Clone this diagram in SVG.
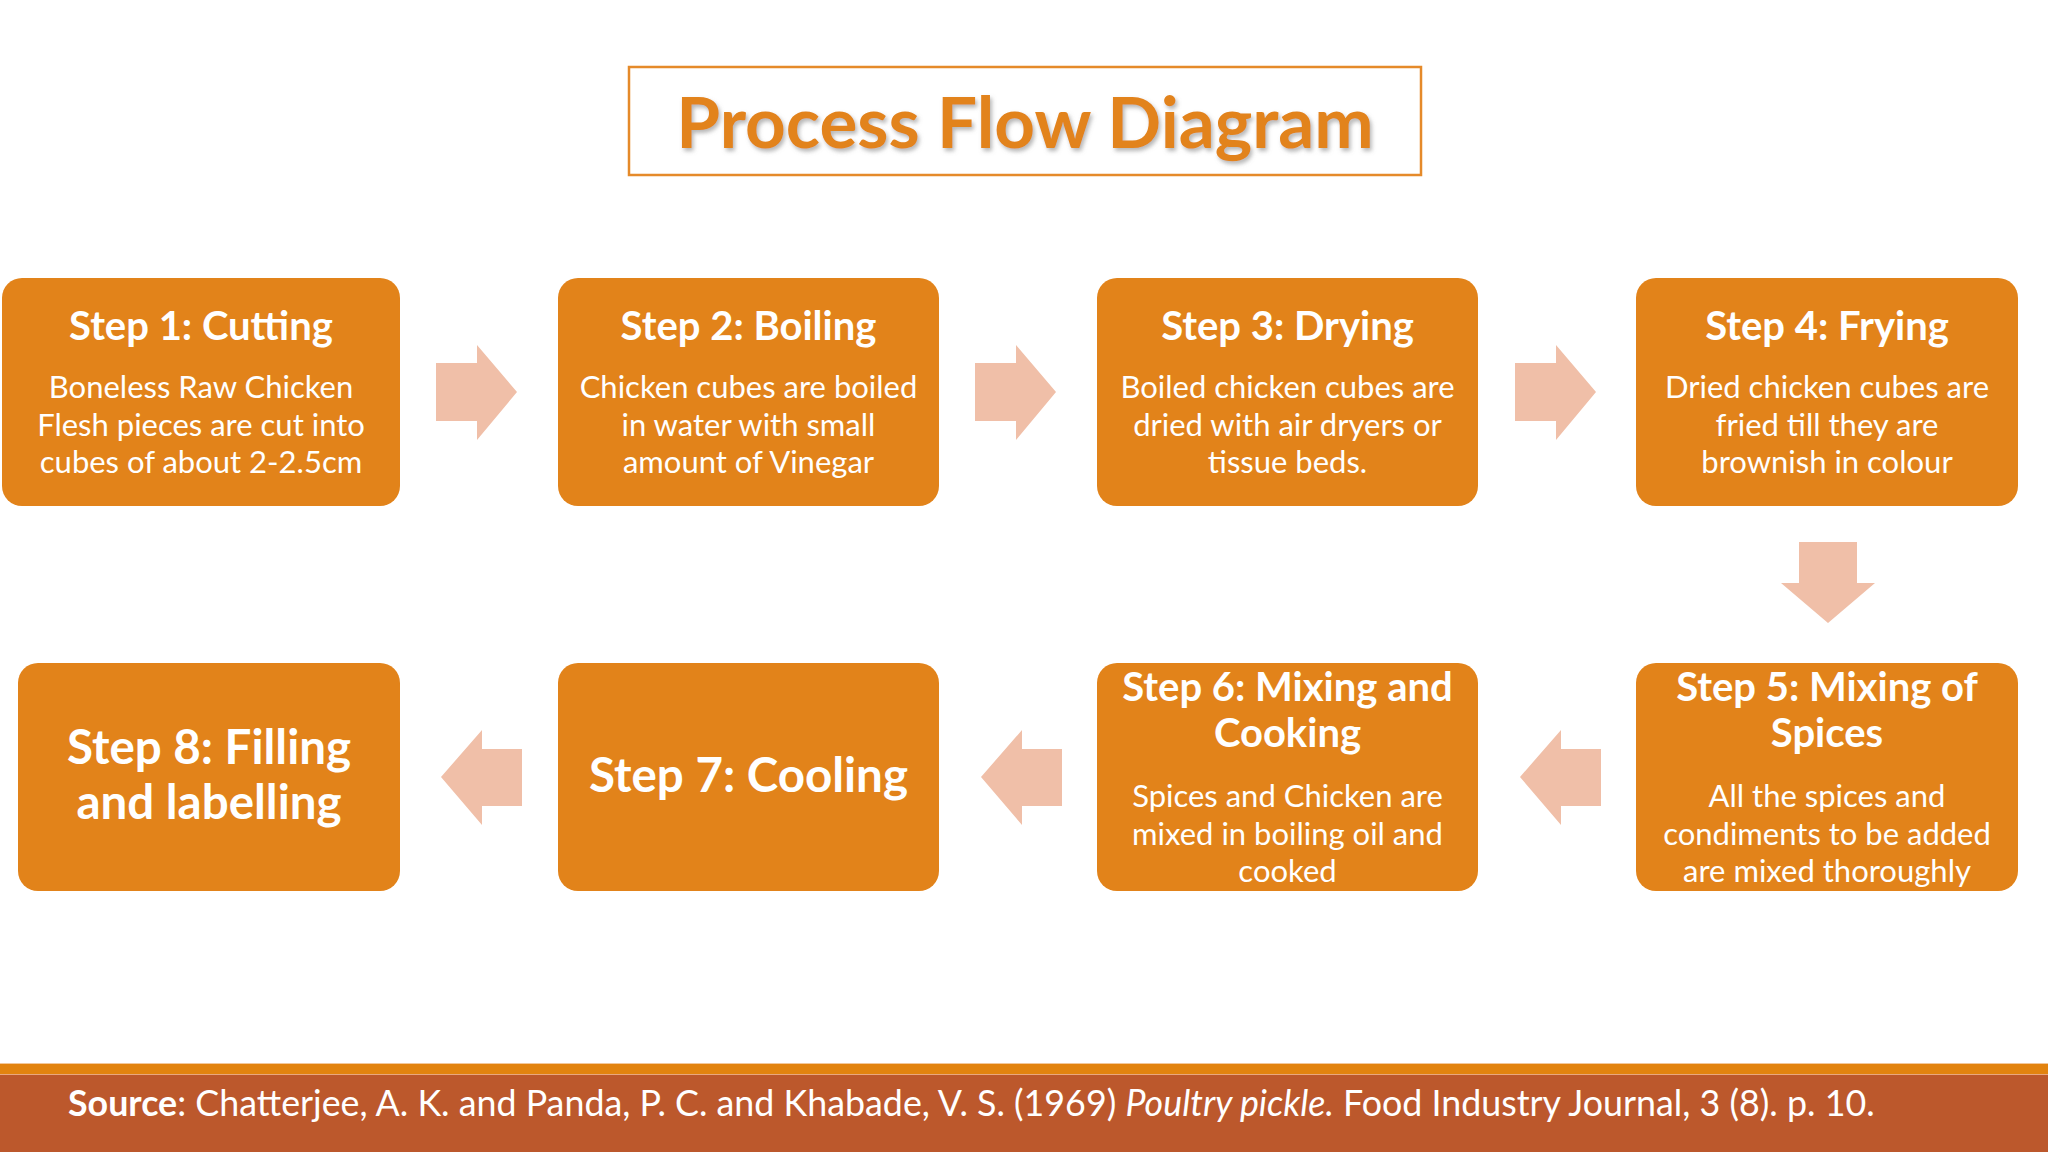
<svg xmlns="http://www.w3.org/2000/svg" width="2048" height="1152" viewBox="0 0 2048 1152">
  <defs>
    <filter id="shadow" x="-5%" y="-20%" width="110%" height="140%">
      <feDropShadow dx="2" dy="3" stdDeviation="2" flood-color="#7a7a7a" flood-opacity="0.55"/>
    </filter>
  </defs>
  <style>
    .box { fill: #E2831A; }
    .arrow { fill: #F0BFA8; }
    .head { font-family: Lato, "Liberation Sans", sans-serif; font-weight: bold; font-size: 40px; fill: #FFFFFF; text-anchor: middle; }
    .big { font-family: Lato, "Liberation Sans", sans-serif; font-weight: bold; font-size: 47.5px; fill: #FFFFFF; text-anchor: middle; }
    .body { font-family: Lato, "Liberation Sans", sans-serif; font-size: 31px; fill: #FFFFFF; text-anchor: middle; }
    .title { font-family: Lato, "Liberation Sans", sans-serif; font-weight: bold; font-size: 71px; fill: #E2831A; text-anchor: middle; }
    .foot { font-family: Lato, "Liberation Sans", sans-serif; font-size: 35.8px; fill: #FFFFFF; }
  </style>
  <rect x="0" y="0" width="2048" height="1152" fill="#FFFFFF"/>

  <g id="title">
    <rect x="629" y="67" width="792" height="108" fill="#FFFFFF" stroke="#E58A2A" stroke-width="2.5"/>
    <text class="title" x="1025" y="148" filter="url(#shadow)">Process Flow Diagram</text>
  </g>

  <g id="step1">
    <rect class="box" x="2" y="278" width="398" height="228" rx="20"/>
    <text class="head" x="201" y="340">Step 1: Cutting</text>
    <text class="body" x="201" y="398">Boneless Raw Chicken</text>
    <text class="body" x="201" y="435.5">Flesh pieces are cut into</text>
    <text class="body" x="201" y="473">cubes of about 2-2.5cm</text>
  </g>
  <g id="step2">
    <rect class="box" x="558" y="278" width="381" height="228" rx="20"/>
    <text class="head" x="748.5" y="340">Step 2: Boiling</text>
    <text class="body" x="748.5" y="398">Chicken cubes are boiled</text>
    <text class="body" x="748.5" y="435.5">in water with small</text>
    <text class="body" x="748.5" y="473">amount of Vinegar</text>
  </g>
  <g id="step3">
    <rect class="box" x="1097" y="278" width="381" height="228" rx="20"/>
    <text class="head" x="1287.5" y="340">Step 3: Drying</text>
    <text class="body" x="1287.5" y="398">Boiled chicken cubes are</text>
    <text class="body" x="1287.5" y="435.5">dried with air dryers or</text>
    <text class="body" x="1287.5" y="473">tissue beds.</text>
  </g>
  <g id="step4">
    <rect class="box" x="1636" y="278" width="382" height="228" rx="20"/>
    <text class="head" x="1827" y="340">Step 4: Frying</text>
    <text class="body" x="1827" y="398">Dried chicken cubes are</text>
    <text class="body" x="1827" y="435.5">fried till they are</text>
    <text class="body" x="1827" y="473">brownish in colour</text>
  </g>
  <g id="step5">
    <rect class="box" x="1636" y="663" width="382" height="228" rx="20"/>
    <text class="head" x="1827" y="701">Step 5: Mixing of</text>
    <text class="head" x="1827" y="747">Spices</text>
    <text class="body" x="1827" y="807">All the spices and</text>
    <text class="body" x="1827" y="844.5">condiments to be added</text>
    <text class="body" x="1827" y="882">are mixed thoroughly</text>
  </g>
  <g id="step6">
    <rect class="box" x="1097" y="663" width="381" height="228" rx="20"/>
    <text class="head" x="1287.5" y="701">Step 6: Mixing and</text>
    <text class="head" x="1287.5" y="747">Cooking</text>
    <text class="body" x="1287.5" y="807">Spices and Chicken are</text>
    <text class="body" x="1287.5" y="844.5">mixed in boiling oil and</text>
    <text class="body" x="1287.5" y="882">cooked</text>
  </g>
  <g id="step7">
    <rect class="box" x="558" y="663" width="381" height="228" rx="20"/>
    <text class="big" x="748.5" y="792">Step 7: Cooling</text>
  </g>
  <g id="step8">
    <rect class="box" x="18" y="663" width="382" height="228" rx="20"/>
    <text class="big" x="209" y="764">Step 8: Filling</text>
    <text class="big" x="209" y="819">and labelling</text>
  </g>

  <g id="connectors">
    <polygon class="arrow" points="436,363 477,363 477,345 517,392 477,440 477,421 436,421"/>
    <polygon class="arrow" points="975,363 1016,363 1016,345 1056,392 1016,440 1016,421 975,421"/>
    <polygon class="arrow" points="1515,363 1556,363 1556,345 1596,392 1556,440 1556,421 1515,421"/>
    <polygon class="arrow" points="1799,542 1857,542 1857,583 1875,583 1828,623 1781,583 1799,583"/>
    <polygon class="arrow" points="1601,749 1561,749 1561,730 1520,777 1561,825 1561,806 1601,806"/>
    <polygon class="arrow" points="1062,749 1022,749 1022,730 981,777 1022,825 1022,806 1062,806"/>
    <polygon class="arrow" points="522,749 482,749 482,730 441,777 482,825 482,806 522,806"/>
  </g>

  <g id="footer">
    <rect x="0" y="1063" width="2048" height="11" fill="#E2830F"/>
    <rect x="0" y="1063" width="2048" height="1" fill="#F3C79A"/>
    <rect x="0" y="1074" width="2048" height="78" fill="#BC582C"/>
    <rect x="0" y="1074" width="2048" height="1" fill="#E9A77E"/>
    <text class="foot" x="68" y="1116"><tspan font-weight="bold">Source</tspan>: Chatterjee, A. K. and Panda, P. C. and Khabade, V. S. (1969) <tspan font-style="italic">Poultry pickle.</tspan> Food Industry Journal, 3 (8). p. 10.</text>
  </g>
</svg>
